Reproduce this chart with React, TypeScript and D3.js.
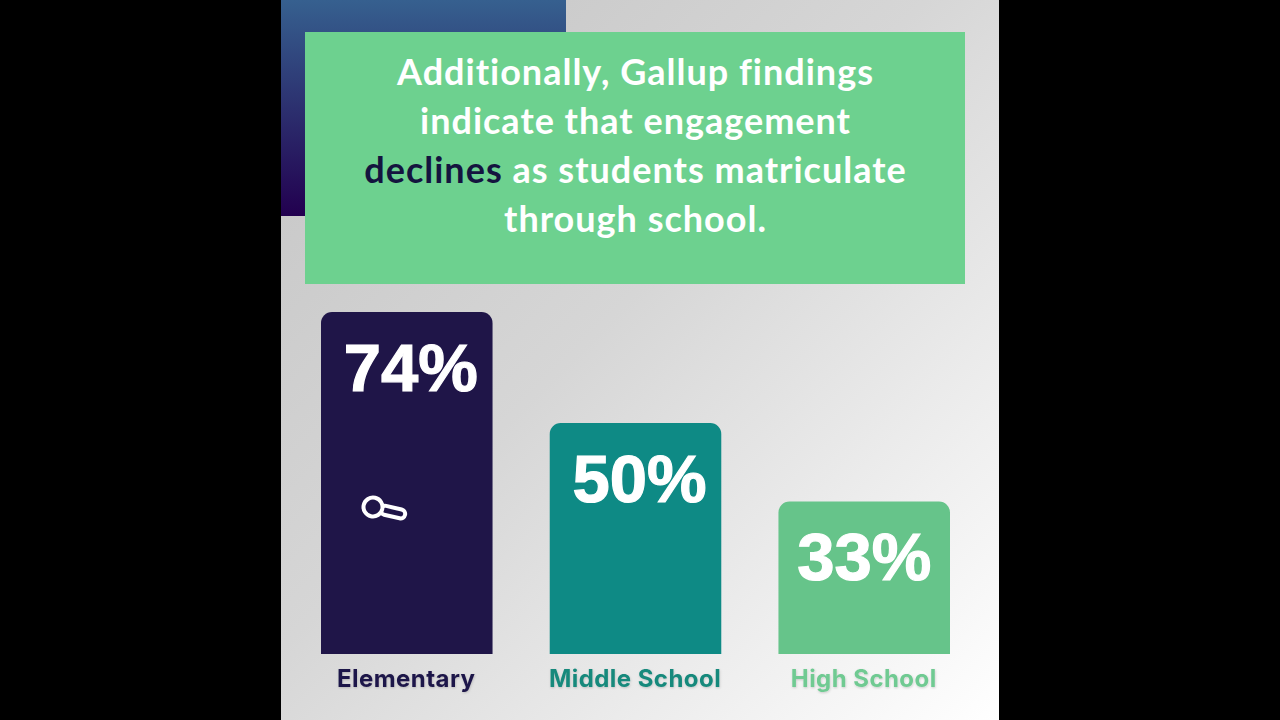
import { useEffect, useRef } from "react";
import * as d3 from "d3";

const categories = ["Elementary", "Middle School", "High School"];
const values = [74, 50, 33];
const bar_colors = ["#1f1548", "#0e8a85", "#66c48a"];
const label_colors = ["#1f1548", "#17897c", "#6fca92"];
const heading_lines = [
  [{ text: "Additionally, Gallup findings", dark: false }],
  [{ text: "indicate that engagement", dark: false }],
  [
    { text: "declines", dark: true },
    { text: " as students matriculate", dark: false },
  ],
  [{ text: "through school.", dark: false }],
];

export default function App() {
  const chart_ref = useRef<SVGSVGElement | null>(null);

  useEffect(() => {
    if (!chart_ref.current) return;

    document.body.style.margin = "0";
    document.body.style.background = "#000";

    const svg = d3.select(chart_ref.current);
    svg.selectAll("*").remove();

    const defs = svg.append("defs");

    const panel_gradient = defs
      .append("linearGradient")
      .attr("id", "panel_gradient")
      .attr("x1", 0)
      .attr("y1", 0)
      .attr("x2", 1)
      .attr("y2", 1);
    panel_gradient.append("stop").attr("offset", "0%").attr("stop-color", "#c4c4c4");
    panel_gradient.append("stop").attr("offset", "45%").attr("stop-color", "#d6d6d6");
    panel_gradient.append("stop").attr("offset", "100%").attr("stop-color", "#ffffff");

    const corner_gradient = defs
      .append("linearGradient")
      .attr("id", "corner_gradient")
      .attr("x1", 0)
      .attr("y1", 0)
      .attr("x2", 0)
      .attr("y2", 1);
    corner_gradient.append("stop").attr("offset", "0%").attr("stop-color", "#36608f");
    corner_gradient.append("stop").attr("offset", "100%").attr("stop-color", "#22004f");

    const label_shadow = defs.append("filter").attr("id", "label_shadow");
    label_shadow
      .append("feDropShadow")
      .attr("dx", 0.5)
      .attr("dy", 1)
      .attr("stdDeviation", 0.8)
      .attr("flood-color", "#000")
      .attr("flood-opacity", 0.18);

    // Background pieces
    svg.append("rect").attr("width", 1280).attr("height", 720).attr("fill", "#000");
    svg
      .append("rect")
      .attr("x", 281)
      .attr("width", 718)
      .attr("height", 720)
      .attr("fill", "url(#panel_gradient)");
    svg
      .append("rect")
      .attr("x", 281)
      .attr("width", 285)
      .attr("height", 216)
      .attr("fill", "url(#corner_gradient)");
    svg
      .append("rect")
      .attr("x", 305)
      .attr("y", 32)
      .attr("width", 660)
      .attr("height", 252)
      .attr("fill", "#6dd18f");

    // Heading
    const heading = svg
      .append("text")
      .attr("text-anchor", "middle")
      .attr("font-family", "Lato")
      .attr("font-weight", 700)
      .attr("font-size", 36)
      .attr("letter-spacing", 1);

    heading_lines.forEach((line, index) => {
      const row = heading
        .append("tspan")
        .attr("x", 635.5)
        .attr("y", 85 + index * 49);
      line.forEach((part) => {
        row
          .append("tspan")
          .attr("fill", part.dark ? "#14143f" : "#ffffff")
          .attr("xml:space", "preserve")
          .text(part.text);
      });
    });

    // Scales
    const x = d3.scaleBand().domain(categories).range([321, 950]).paddingInner(0.25);
    const y = d3.scaleLinear().domain([0, 74]).range([654, 312]);
    const radius = 11;
    // The percentages are not quite centred on their bars in the original
    const value_nudge = [4, 4, 0];

    categories.forEach((category, index) => {
      const left = x(category) || 0;
      const right = left + x.bandwidth();
      const top = y(values[index]);

      const bar = d3.path();
      bar.moveTo(left, y(0));
      bar.lineTo(left, top + radius);
      bar.arcTo(left, top, left + radius, top, radius);
      bar.lineTo(right - radius, top);
      bar.arcTo(right, top, right, top + radius, radius);
      bar.lineTo(right, y(0));
      bar.closePath();

      svg.append("path").attr("d", bar.toString()).attr("fill", bar_colors[index]);

      svg
        .append("text")
        .attr("x", left + x.bandwidth() / 2 + value_nudge[index])
        .attr("y", top + 79)
        .attr("text-anchor", "middle")
        .attr("font-family", "Liberation Sans")
        .attr("font-weight", 700)
        .attr("font-size", 67)
        .attr("fill", "#ffffff")
        .attr("stroke", "#ffffff")
        .attr("stroke-width", 1.2)
        .text(`${values[index]}%`);

      svg
        .append("text")
        .attr("x", left + x.bandwidth() / 2 - 0.5)
        .attr("y", 687)
        .attr("text-anchor", "middle")
        .attr("font-family", "Inter")
        .attr("font-weight", 700)
        .attr("font-size", 24)
        .attr("letter-spacing", 0.45)
        .attr("fill", label_colors[index])
        .attr("filter", "url(#label_shadow)")
        .text(category);
    });

    // Small pointer glyph sitting on the first bar
    const glyph = svg
      .append("g")
      .attr("transform", "translate(373,507) rotate(13)")
      .attr("fill", "none")
      .attr("stroke", "#ffffff")
      .attr("stroke-width", 4);
    glyph.append("rect").attr("x", 8).attr("y", -4).attr("width", 25).attr("height", 9).attr("rx", 4.5);
    glyph.append("circle").attr("r", 9.5).attr("fill", "#1f1548");
  }, []);

  return (
    <svg
      ref={chart_ref}
      width={1280}
      height={720}
      style={{ position: "fixed", left: 0, top: 0, display: "block" }}
    ></svg>
  );
}
